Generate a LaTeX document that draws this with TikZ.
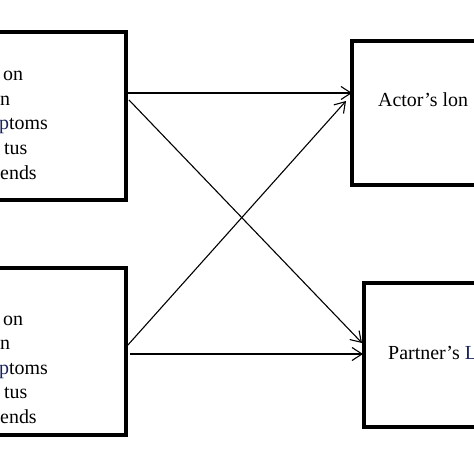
\documentclass[tikz,border=0pt]{standalone}
\usepackage{fontspec}
\setmainfont{Liberation Serif}
\usetikzlibrary{arrows.meta}
\definecolor{darkblue}{rgb}{0.1,0.14,0.36}

\begin{document}
\begin{tikzpicture}[x=1bp,y=-1bp,
    box/.style={draw,line width=4.5bp,inner sep=0pt,outer sep=0pt,minimum width=166bp},
    txt/.style={anchor=base west,inner sep=0pt,font=\fontsize{20}{24}\selectfont},
    arr/.style={line width=1.1bp,-{Straight Barb[length=10bp,width=13bp]}}]
    \useasboundingbox (0,0) rectangle (474,474);
    \clip (0,0) rectangle (474,474);
    %左の箱（画面の外まで続く）
    \node[box,minimum height=168bp] (actorIn) at (43,116) {};
    \node[box,minimum height=167bp] (partnerIn) at (43,351.5) {};
    %右の箱
    \node[box,minimum height=144bp,minimum width=168bp] (actorOut) at (436,113) {};
    \node[box,minimum height=144bp] (partnerOut) at (447,355) {};
    %左の文字
    \node[txt] (a1) at (3,81) {on};
    \node[txt] (a2) at (0,105.5) {n};
    \node[txt] (a3) at (-1,130) {\textcolor{darkblue}{p}toms};
    \node[txt] (a4) at (4,155) {tus};
    \node[txt] (a5) at (0,179.5) {ends};
    \node[txt] (p1) at (3,325) {on};
    \node[txt] (p2) at (0,349.5) {n};
    \node[txt] (p3) at (-1,374) {\textcolor{darkblue}{p}toms};
    \node[txt] (p4) at (4,398.5) {tus};
    \node[txt] (p5) at (0,423) {ends};
    %右の文字
    \node[txt] (actorLbl) at (378,107) {Actor’s lon};
    \node[txt] (partnerLbl) at (388,359) {Partner’s \textcolor{darkblue}{L}};
    %矢印の端
    \coordinate (s1) at (127,93);
    \coordinate (s2) at (129,100);
    \coordinate (s3) at (127,346);
    \coordinate (s4) at (130,354);
    \coordinate (e1) at (352,93);
    \coordinate (e2) at (346,101);
    \coordinate (e3) at (362,343);
    \coordinate (e4) at (363,354);
    \draw[arr] (s1)--(e1);
    \draw[arr] (s2)--(e3);
    \draw[arr] (s3)--(e2);
    \draw[arr] (s4)--(e4);
\end{tikzpicture}
\end{document}
